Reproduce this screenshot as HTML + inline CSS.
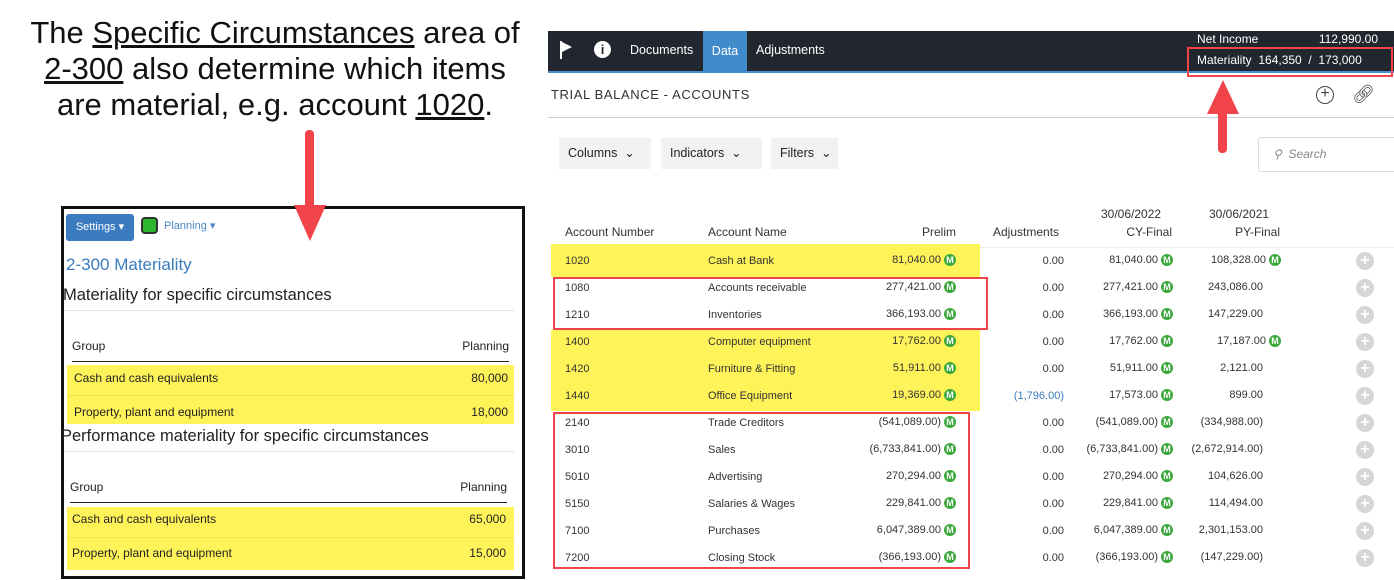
<!DOCTYPE html>
<html><head><meta charset="utf-8"><style>
*{margin:0;padding:0;box-sizing:border-box}
body{width:1394px;height:580px;overflow:hidden;background:#fff;font-family:"Liberation Sans",sans-serif;position:relative;color:#222}
.a{position:absolute;white-space:nowrap}
.t{font-size:11px;color:#333}
.r{text-align:right}
.m{display:inline-block;width:12px;height:12px;border-radius:50%;background:#3aa83a;color:#fff;font-size:9px;line-height:12px;text-align:center;font-weight:bold;vertical-align:middle;margin-left:3px}
.plus{position:absolute;left:1356px;width:18px;height:18px;border-radius:50%;background:#d6d6d6;color:#fff;font-size:16px;line-height:18px;text-align:center;font-weight:bold}
</style></head><body>
<div class="a" style="left:0;width:550px;top:15px;text-align:center;font-size:31px;line-height:36px;color:#111">The <u>Specific Circumstances</u> area of<br><u>2-300</u> also determine which items<br>are material, e.g. account <u>1020</u>.</div>
<div class="a" style="left:305px;top:130px;width:9px;height:80px;background:#f0434a;border-radius:4px"></div>
<div class="a" style="left:61px;top:206px;width:464px;height:373px;border:3px solid #111;background:#fff"></div>
<div class="a" style="left:294px;top:205px;width:0;height:0;border-left:16px solid transparent;border-right:16px solid transparent;border-top:36px solid #f0434a"></div>
<div class="a" style="left:66px;top:214px;width:68px;height:27px;background:#3b7bbf;border-radius:3px;color:#fff;font-size:11px;line-height:27px;text-align:center">Settings ▾</div>
<div class="a" style="left:141px;top:217px;width:17px;height:17px;border:2px solid #333;border-radius:4px;background:#2db52d"></div>
<div class="a" style="left:164px;top:219px;font-size:11px;color:#4a86c5">Planning ▾</div>
<div class="a" style="left:66px;top:255px;font-size:17px;color:#3a7bbf">2-300 Materiality</div>
<div class="a" style="left:63px;top:286px;font-size:16.5px;color:#222">Materiality for specific circumstances</div>
<div class="a" style="left:64px;top:310px;width:450px;height:1px;background:#e4e4e4"></div>
<div class="a" style="left:72px;top:339px;font-size:12px">Group</div>
<div class="a" style="left:400px;width:109px;top:339px;font-size:12px;text-align:right">Planning</div>
<div class="a" style="left:72px;top:361px;width:437px;height:1px;background:#222"></div>
<div class="a" style="left:67px;top:365px;width:447px;height:59px;background:#fff35a"></div>
<div class="a" style="left:67px;top:395px;width:447px;height:1px;background:#ece35a"></div>
<div class="a" style="left:74px;top:371px;font-size:12px">Cash and cash equivalents</div>
<div class="a" style="left:400px;width:108px;top:371px;font-size:12px;text-align:right">80,000</div>
<div class="a" style="left:74px;top:405px;font-size:12px">Property, plant and equipment</div>
<div class="a" style="left:400px;width:108px;top:405px;font-size:12px;text-align:right">18,000</div>
<div class="a" style="left:61px;top:427px;font-size:16.5px;color:#222">Performance materiality for specific circumstances</div>
<div class="a" style="left:64px;top:451px;width:450px;height:1px;background:#e4e4e4"></div>
<div class="a" style="left:70px;top:480px;font-size:12px">Group</div>
<div class="a" style="left:400px;width:107px;top:480px;font-size:12px;text-align:right">Planning</div>
<div class="a" style="left:70px;top:502px;width:437px;height:1px;background:#222"></div>
<div class="a" style="left:67px;top:507px;width:447px;height:63px;background:#fff35a"></div>
<div class="a" style="left:67px;top:537px;width:447px;height:1px;background:#ece35a"></div>
<div class="a" style="left:72px;top:512px;font-size:12px">Cash and cash equivalents</div>
<div class="a" style="left:400px;width:106px;top:512px;font-size:12px;text-align:right">65,000</div>
<div class="a" style="left:72px;top:546px;font-size:12px">Property, plant and equipment</div>
<div class="a" style="left:400px;width:106px;top:546px;font-size:12px;text-align:right">15,000</div>

<div class="a" style="left:548px;top:31px;width:846px;height:41px;background:#22262e"></div>
<div class="a" style="left:548px;top:71px;width:846px;height:2px;background:#4a8fd0"></div>
<div class="a" style="left:560px;top:41px;width:2px;height:18px;background:#fff"></div>
<div class="a" style="left:562px;top:42px;width:0;height:0;border-top:5px solid transparent;border-bottom:5px solid transparent;border-left:10px solid #fff"></div>
<div class="a" style="left:594px;top:41px;width:17px;height:17px;border-radius:50%;background:#fff;color:#22262e;font-weight:bold;font-size:13px;line-height:17px;text-align:center">i</div>
<div class="a" style="left:630px;top:43px;font-size:12.5px;color:#fff">Documents</div>
<div class="a" style="left:703px;top:31px;width:44px;height:41px;background:#428bca;color:#fff;font-size:12.5px;line-height:40px;text-align:center">Data</div>
<div class="a" style="left:756px;top:43px;font-size:12.5px;color:#fff">Adjustments</div>
<div class="a" style="left:1197px;top:32px;font-size:12px;color:#fff">Net Income</div>
<div class="a" style="left:1290px;width:88px;top:32px;font-size:12px;color:#fff;text-align:right">112,990.00</div>
<div class="a" style="left:1197px;top:53px;font-size:12px;color:#fff">Materiality&nbsp; 164,350&nbsp; /&nbsp; 173,000</div>
<div class="a" style="left:1187px;top:47px;width:206px;height:30px;border:2px solid #f0434a"></div>
<div class="a" style="left:551px;top:87px;font-size:13px;letter-spacing:0.6px;color:#333">TRIAL BALANCE - ACCOUNTS</div>
<div class="a" style="left:1316px;top:86px;width:18px;height:18px;border:1.5px solid #444;border-radius:50%;text-align:center;line-height:14px;font-size:16px;color:#444">+</div>
<div class="a" style="left:1352px;top:84px;font-size:18px;color:#444">🔗︎</div>
<div class="a" style="left:548px;top:117px;width:846px;height:1px;background:#ccc"></div>
<div class="a" style="left:559px;top:138px;width:92px;height:31px;background:#f2f2f2;font-size:12.5px;line-height:30px;padding-left:9px">Columns &nbsp;⌄</div>
<div class="a" style="left:661px;top:138px;width:101px;height:31px;background:#f2f2f2;font-size:12.5px;line-height:30px;padding-left:9px">Indicators &nbsp;⌄</div>
<div class="a" style="left:771px;top:138px;width:67px;height:31px;background:#f2f2f2;font-size:12.5px;line-height:30px;padding-left:9px">Filters &nbsp;⌄</div>
<div class="a" style="left:1258px;top:137px;width:140px;height:35px;border:1px solid #ddd;border-radius:3px;font-size:12px;font-style:italic;color:#888;line-height:33px;padding-left:14px">⚲&nbsp; Search</div>
<div class="a" style="left:1218px;top:95px;width:9px;height:58px;background:#f0434a;border-radius:4px"></div>
<div class="a" style="left:1207px;top:80px;width:0;height:0;border-left:16px solid transparent;border-right:16px solid transparent;border-bottom:34px solid #f0434a"></div>
<div class="a t" style="left:1101px;top:207px;font-size:12px">30/06/2022</div>
<div class="a t" style="left:1209px;top:207px;font-size:12px">30/06/2021</div>
<div class="a t" style="left:565px;top:225px;font-size:12px">Account Number</div>
<div class="a t" style="left:708px;top:225px;font-size:12px">Account Name</div>
<div class="a t r" style="left:880px;width:76px;top:225px;font-size:12px">Prelim</div>
<div class="a t" style="left:993px;top:225px;font-size:12px">Adjustments</div>
<div class="a t r" style="left:1090px;width:82px;top:225px;font-size:12px">CY-Final</div>
<div class="a t r" style="left:1200px;width:80px;top:225px;font-size:12px">PY-Final</div>
<div class="a" style="left:548px;top:247px;width:846px;height:1px;background:#eee"></div>
<div class="a" style="left:551px;top:244px;width:429px;height:33px;background:#fff35a"></div>
<div class="a" style="left:551px;top:330px;width:429px;height:81px;background:#fff35a"></div>
<div class="a" style="left:553px;top:277px;width:435px;height:53px;border:2px solid #f0434a"></div>
<div class="a" style="left:553px;top:412px;width:417px;height:157px;border:2px solid #f0434a"></div>

<div id="rows"></div>
<script>
var d=[["1020","Cash at Bank","81,040.00",1,"0.00","81,040.00","108,328.00",1],
["1080","Accounts receivable","277,421.00",1,"0.00","277,421.00","243,086.00",0],
["1210","Inventories","366,193.00",1,"0.00","366,193.00","147,229.00",0],
["1400","Computer equipment","17,762.00",1,"0.00","17,762.00","17,187.00",1],
["1420","Furniture & Fitting","51,911.00",1,"0.00","51,911.00","2,121.00",0],
["1440","Office Equipment","19,369.00",1,"(1,796.00)","17,573.00","899.00",0],
["2140","Trade Creditors","(541,089.00)",1,"0.00","(541,089.00)","(334,988.00)",0],
["3010","Sales","(6,733,841.00)",1,"0.00","(6,733,841.00)","(2,672,914.00)",0],
["5010","Advertising","270,294.00",1,"0.00","270,294.00","104,626.00",0],
["5150","Salaries & Wages","229,841.00",1,"0.00","229,841.00","114,494.00",0],
["7100","Purchases","6,047,389.00",1,"0.00","6,047,389.00","2,301,153.00",0],
["7200","Closing Stock","(366,193.00)",1,"0.00","(366,193.00)","(147,229.00)",0]];
var h="";
d.forEach(function(r,i){var y=255+i*27;
h+='<div class="a t" style="left:565px;top:'+y+'px">'+r[0]+'</div>';
h+='<div class="a t" style="left:708px;top:'+y+'px">'+r[1].replace("&","&amp;")+'</div>';
h+='<div class="a t r" style="left:800px;width:156px;top:'+(y-1)+'px">'+r[2]+'<span class="m">M</span></div>';
h+='<div class="a t r" style="left:960px;width:104px;top:'+y+'px;'+(r[4]!="0.00"?"color:#3a7bbf":"")+'">'+r[4]+'</div>';
h+='<div class="a t r" style="left:1060px;width:113px;top:'+(y-1)+'px">'+r[5]+'<span class="m">M</span></div>';
h+='<div class="a t r" style="left:1160px;width:'+(r[7]?121:103)+'px;top:'+(y-1)+'px">'+r[6]+(r[7]?'<span class="m">M</span>':'')+'</div>';
h+='<div class="plus" style="top:'+(y-3)+'px">+</div>';});
document.getElementById("rows").innerHTML=h;
</script>
</body></html>
